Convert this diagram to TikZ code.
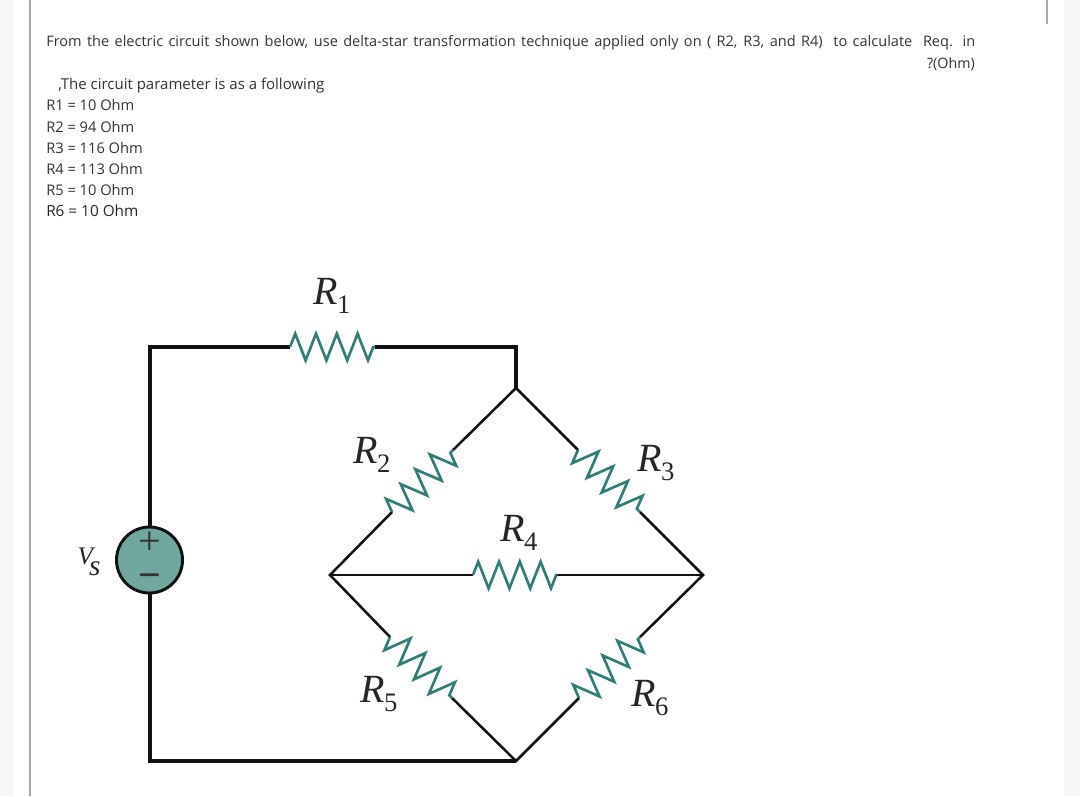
\documentclass[tikz,border=0pt]{standalone}
\usepackage{fontspec}
\setmainfont{Open Sans}
\newfontfamily\labelfont{Liberation Serif}
\usetikzlibrary{decorations.pathmorphing}
\definecolor{wirecolor}{HTML}{111111}
\definecolor{zigcolor}{HTML}{2F7F78}
\definecolor{sourcecolor}{HTML}{70A89F}
\definecolor{textcolor}{HTML}{333333}
\newcommand{\Rlabel}[1]{{\labelfont\fontsize{30}{30}\selectfont\itshape R\kern-0.6pt\raisebox{-7pt}{\upshape\fontsize{20}{20}\selectfont #1}}}
\tikzset{
  thickwire/.style={draw=wirecolor,line width=3pt},
  thinwire/.style={draw=wirecolor,line width=1.9pt},
  resistor/.style={draw=zigcolor,line width=2pt,decorate,
    decoration={zigzag,segment length=15.6pt,amplitude=10pt}},
  flipped/.style={resistor,decoration={mirror}},
  parline/.style={anchor=base west,inner sep=0pt,text=textcolor,font=\fontsize{11}{11}\selectfont},
  rlabel/.style={anchor=center,inner sep=0pt,text=black!85},
}
\begin{document}
\begin{tikzpicture}[x=0.75pt,y=-0.75pt]
  \useasboundingbox (0,0) rectangle (1080,796);
  % page frame
  \fill[black!3] (0,0) rectangle (13,796);
  \fill[black!3] (1064,0) rectangle (1080,796);
  \draw[black!35,line width=1.5pt] (30,0) -- (30,796);
  \draw[black!35,line width=1.2pt] (1047,0) -- (1047,24);
  % question text
  \node[parline,font=\fontsize{10.9}{10.9}\selectfont] (q1) at (46,46) {\makebox[696.75pt][s]{From the electric circuit shown below, use delta-star transformation technique applied only on ( R2, R3, and R4) \ to calculate \ Req. in}};
  \node[parline,font=\fontsize{10.7}{10.7}\selectfont,anchor=base east] (q2) at (975,68) {?(Ohm)};
  \node[parline,font=\fontsize{11.25}{11.25}\selectfont] (q3) at (58,89) {,The circuit parameter is as a following};
  \foreach \name/\val/\y in {1/10/110,2/94/132,3/116/153,4/113/174,5/10/195}
    \node[parline] (par\name) at (46,\y) {R\name{} = \val{} Ohm};
  \node[parline,text=black!85,font=\fontsize{11.5}{11.5}\selectfont] (par6) at (46,216) {R6 = 10 Ohm};
  % junctions
  \coordinate (tl) at (149.5,347);
  \coordinate (tr) at (516,347);
  \coordinate (bl) at (149.5,761);
  \coordinate (top) at (516,388);
  \coordinate (left) at (330,575);
  \coordinate (right) at (703,575);
  \coordinate (bot) at (516,761);
  % resistor ends
  \coordinate (r1a) at (290,347);
  \coordinate (r1b) at (375,347);
  \coordinate (r2a) at (392,512);
  \coordinate (r2b) at (453,450);
  \coordinate (r3a) at (578,450);
  \coordinate (r3b) at (640,512);
  \coordinate (r4a) at (473,575);
  \coordinate (r4b) at (557,575);
  \coordinate (r5a) at (390,637);
  \coordinate (r5b) at (452,698);
  \coordinate (r6a) at (579,698);
  \coordinate (r6b) at (640,637);
  % source
  \node[circle,draw=wirecolor,fill=sourcecolor,line width=2.2pt,minimum size=49.5pt,inner sep=0pt] (vs) at (149.5,560) {};
  \node[inner sep=0pt,text=black!80,font=\labelfont\fontsize{30}{30}\selectfont] (plus) at (149.5,543) {+};
  \node[inner sep=0pt,text=black!80,font=\labelfont\bfseries\fontsize{30}{30}\selectfont] (minus) at (149.5,581) {−};
  % wires
  \draw[thickwire,line join=miter] (vs.north) -- (tl) -- (r1a);
  \draw[thickwire] (r1b) -- (tr) -- (top);
  \draw[thickwire,line join=miter] (vs.south) -- (bl) -- (bot);
  \draw[thinwire,line join=miter] (r2b) -- (top) -- (r3a);
  \draw[thinwire,line join=miter] (r2a) -- (left) -- (r5a);
  \draw[thinwire,line join=miter] (r3b) -- (right) -- (r6b);
  \draw[thinwire,line join=miter] (r5b) -- (bot) -- (r6a);
  \draw[thinwire] (left) -- (r4a);
  \draw[thinwire] (r4b) -- (right);
  % resistors
  \draw[resistor] (r1a) -- (r1b);
  \draw[resistor] (r2a) -- (r2b);
  \draw[flipped] (r3a) -- (r3b);
  \draw[resistor] (r4a) -- (r4b);
  \draw[flipped] (r5a) -- (r5b);
  \draw[resistor] (r6a) -- (r6b);
  % labels
  \node[rlabel] (lab1) at (332,296) {\Rlabel{1}};
  \node[rlabel] (lab2) at (372,455) {\Rlabel{2}};
  \node[rlabel] (lab3) at (656,463) {\Rlabel{3}};
  \node[rlabel] (lab4) at (519,533) {\Rlabel{4}};
  \node[rlabel] (lab5) at (379,694) {\Rlabel{5}};
  \node[rlabel] (lab6) at (650,698) {\Rlabel{6}};
  \node[rlabel] (labs) at (89,562) {\labelfont\itshape\fontsize{19}{19}\selectfont V\kern-3pt\raisebox{-8pt}{\fontsize{22}{22}\selectfont s}};
\end{tikzpicture}
\end{document}
